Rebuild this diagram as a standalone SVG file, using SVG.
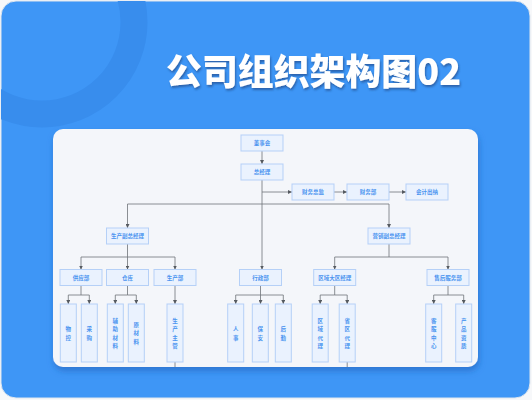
<svg xmlns="http://www.w3.org/2000/svg" width="532" height="400" viewBox="0 0 532 400">
<defs>
<style>
.bx{fill:#eaf2fe;stroke:#b5d0f7;stroke-width:1}
.t{font-family:"Noto Sans CJK SC","Noto Sans",sans-serif;font-size:5.5px;font-weight:bold;fill:#4a94f0;text-anchor:middle;dominant-baseline:central}
.ln{fill:none;stroke:#6f7378;stroke-width:0.8}
.ar{marker-end:url(#ah)}
</style>
<marker id="ah" viewBox="0 0 6 6" refX="6" refY="3" markerWidth="4" markerHeight="4" orient="auto" markerUnits="userSpaceOnUse">
<path d="M0,0 L6,3 L0,6 Z" fill="#555a60"/>
</marker>
<filter id="sh" x="-10%" y="-10%" width="120%" height="130%">
<feDropShadow dx="1" dy="4" stdDeviation="3" flood-color="#1b5db5" flood-opacity="0.55"/>
</filter>
<filter id="tsh" x="-10%" y="-20%" width="120%" height="150%">
<feDropShadow dx="1" dy="2" stdDeviation="1" flood-color="#1a3f7a" flood-opacity="0.6"/>
</filter>
<clipPath id="bgc"><rect x="1" y="1" width="529" height="397" rx="15"/></clipPath>
<clipPath id="cc"><rect x="53" y="129" width="425" height="238" rx="10"/></clipPath>
</defs>
<rect width="532" height="400" fill="#f7f8fa"/>
<rect x="1" y="1" width="529" height="397" rx="15" fill="#3e96f6" stroke="#dfe6ee" stroke-width="1"/>
<g clip-path="url(#bgc)">
<circle cx="42" cy="22" r="92" fill="none" stroke="#388ded" stroke-width="27"/>
</g>
<text x="166" y="85" font-family="Noto Sans CJK SC,Noto Sans,sans-serif" font-weight="900" font-size="36" fill="#ffffff" filter="url(#tsh)" textLength="295" lengthAdjust="spacingAndGlyphs">公司组织架构图02</text>
<rect x="53" y="129" width="425" height="238" rx="10" fill="#f4f6fa" filter="url(#sh)"/>
<g id="connectors" clip-path="url(#cc)">
<path class="ln ar" d="M262,151 V164"/>
<path class="ln ar" d="M262,180 V269.5"/>
<path class="ln ar" d="M262,192 H292"/>
<path class="ln ar" d="M334,192 H347"/>
<path class="ln ar" d="M389,192 H406"/>
<path class="ln ar" d="M262,204 H127.5 V228"/>
<path class="ln ar" d="M262,204 H389 V228"/>
<path class="ln" d="M127.5,244 V257"/>
<path class="ln ar" d="M127.5,257 H81 V269.5"/>
<path class="ln ar" d="M127.5,257 V269.5"/>
<path class="ln ar" d="M127.5,257 H175 V269.5"/>
<path class="ln" d="M81,285.5 V295"/>
<path class="ln ar" d="M81,295 H68.3 V304"/>
<path class="ln ar" d="M81,295 H89.3 V304"/>
<path class="ln" d="M127.5,285.5 V295"/>
<path class="ln ar" d="M127.5,295 H115.3 V304"/>
<path class="ln ar" d="M127.5,295 H136.3 V304"/>
<path class="ln ar" d="M175,285.5 V304"/>
<path class="ln" d="M175,362 V370"/>
<path class="ln" d="M260.5,285.5 V295"/>
<path class="ln ar" d="M260.5,295 H235.7 V304"/>
<path class="ln ar" d="M260.5,295 V304"/>
<path class="ln ar" d="M260.5,295 H283.3 V304"/>
<path class="ln" d="M389,244 V257"/>
<path class="ln ar" d="M389,257 H334.7 V269.5"/>
<path class="ln ar" d="M389,257 H448 V269.5"/>
<path class="ln" d="M334.7,285.5 V295"/>
<path class="ln ar" d="M334.7,295 H320.2 V304"/>
<path class="ln ar" d="M334.7,295 H347.2 V304"/>
<path class="ln" d="M347.2,362 V370"/>
<path class="ln" d="M448,285.5 V295"/>
<path class="ln ar" d="M448,295 H433.7 V304"/>
<path class="ln ar" d="M448,295 H463.7 V304"/>
</g>
<g id="n-dongshihui"><rect class="bx" x="241" y="135" width="42" height="16"/><text class="t" x="262" y="143">董事会</text></g>
<g id="n-zongjingli"><rect class="bx" x="241" y="164" width="42" height="16"/><text class="t" x="262" y="172">总经理</text></g>
<g id="n-caiwuzongjian"><rect class="bx" x="292" y="184" width="42" height="16"/><text class="t" x="313" y="192">财务总监</text></g>
<g id="n-caiwubu"><rect class="bx" x="347" y="184" width="42" height="16"/><text class="t" x="368" y="192">财务部</text></g>
<g id="n-kuaiji"><rect class="bx" x="406" y="184" width="42" height="16"/><text class="t" x="427" y="192">会计出纳</text></g>
<g id="n-shengchanfu"><rect class="bx" x="106.5" y="228" width="42" height="16"/><text class="t" x="127.5" y="236">生产副总经理</text></g>
<g id="n-yingxiaofu"><rect class="bx" x="368" y="228" width="42" height="16"/><text class="t" x="389" y="236">营销副总经理</text></g>
<g id="n-gongying"><rect class="bx" x="60" y="269.5" width="42" height="16"/><text class="t" x="81" y="277.5">供应部</text></g>
<g id="n-cangku"><rect class="bx" x="106.5" y="269.5" width="42" height="16"/><text class="t" x="127.5" y="277.5">仓库</text></g>
<g id="n-shengchanbu"><rect class="bx" x="154" y="269.5" width="42" height="16"/><text class="t" x="175" y="277.5">生产部</text></g>
<g id="n-xingzheng"><rect class="bx" x="239.5" y="269.5" width="42" height="16"/><text class="t" x="260.5" y="277.5">行政部</text></g>
<g id="n-quyudaqu"><rect class="bx" x="313.7" y="269.5" width="42" height="16"/><text class="t" x="334.7" y="277.5">区域大区经理</text></g>
<g id="n-shouhou"><rect class="bx" x="427" y="269.5" width="42" height="16"/><text class="t" x="448" y="277.5">售后服务部</text></g>
<g id="n-wukong"><rect class="bx" x="60.3" y="304" width="16" height="58"/><text class="t" x="68.3" y="329">物</text><text class="t" x="68.3" y="337.5">控</text></g>
<g id="n-caigou"><rect class="bx" x="81.3" y="304" width="16" height="58"/><text class="t" x="89.3" y="329">采</text><text class="t" x="89.3" y="337.5">购</text></g>
<g id="n-fuzhu"><rect class="bx" x="107.3" y="304" width="16" height="58"/><text class="t" x="115.3" y="320.5">辅</text><text class="t" x="115.3" y="329">助</text><text class="t" x="115.3" y="337.5">材</text><text class="t" x="115.3" y="346">料</text></g>
<g id="n-yuancailiao"><rect class="bx" x="128.3" y="304" width="16" height="58"/><text class="t" x="136.3" y="325">原</text><text class="t" x="136.3" y="333.3">材</text><text class="t" x="136.3" y="341.6">料</text></g>
<g id="n-shengchanzhuguan"><rect class="bx" x="167" y="304" width="16" height="58"/><text class="t" x="175" y="320.5">生</text><text class="t" x="175" y="329">产</text><text class="t" x="175" y="337.5">主</text><text class="t" x="175" y="346">管</text></g>
<g id="n-renshi"><rect class="bx" x="227.7" y="304" width="16" height="58"/><text class="t" x="235.7" y="329">人</text><text class="t" x="235.7" y="337.5">事</text></g>
<g id="n-baoan"><rect class="bx" x="252.3" y="304" width="16" height="58"/><text class="t" x="260.3" y="329">保</text><text class="t" x="260.3" y="337.5">安</text></g>
<g id="n-houqin"><rect class="bx" x="275.3" y="304" width="16" height="58"/><text class="t" x="283.3" y="329">后</text><text class="t" x="283.3" y="337.5">勤</text></g>
<g id="n-quyudaili"><rect class="bx" x="312.2" y="304" width="16" height="58"/><text class="t" x="320.2" y="320.5">区</text><text class="t" x="320.2" y="329">域</text><text class="t" x="320.2" y="337.5">代</text><text class="t" x="320.2" y="346">理</text></g>
<g id="n-shengqudaili"><rect class="bx" x="339.2" y="304" width="16" height="58"/><text class="t" x="347.2" y="320.5">省</text><text class="t" x="347.2" y="329">区</text><text class="t" x="347.2" y="337.5">代</text><text class="t" x="347.2" y="346">理</text></g>
<g id="n-kefu"><rect class="bx" x="425.7" y="304" width="16" height="58"/><text class="t" x="433.7" y="320.5">客</text><text class="t" x="433.7" y="329">服</text><text class="t" x="433.7" y="337.5">中</text><text class="t" x="433.7" y="346">心</text></g>
<g id="n-chanpin"><rect class="bx" x="455.7" y="304" width="16" height="58"/><text class="t" x="463.7" y="320.5">产</text><text class="t" x="463.7" y="329">品</text><text class="t" x="463.7" y="337.5">资</text><text class="t" x="463.7" y="346">质</text></g>
</svg>
